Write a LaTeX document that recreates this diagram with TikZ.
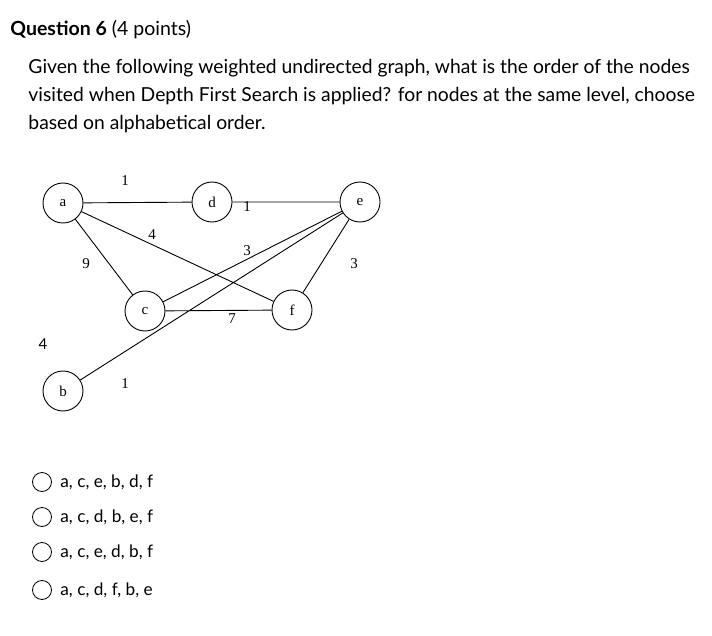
\documentclass[tikz,border=0pt]{standalone}
\usepackage{fontspec}
\setmainfont{Lato}
\newfontfamily\gfont{Liberation Serif}
\begin{document}
\begin{tikzpicture}[x=1pt,y=-1pt,line width=0.9pt,
  vtx/.style={draw,circle,minimum size=40pt,inner sep=0pt,font=\gfont\fontsize{15}{17}\selectfont},
  wt/.style={font=\gfont\fontsize{15}{17}\selectfont,inner sep=0pt},
  txt/.style={anchor=west,inner sep=0pt,font=\fontsize{19.3}{23}\selectfont},
  opt/.style={anchor=west,inner sep=0pt,font=\fontsize{17.2}{21}\selectfont},
  radio/.style={draw,circle,minimum size=19pt,inner sep=0pt,line width=0.8pt}]
\useasboundingbox (0,0) rectangle (712,636);
\node[txt,font=\fontsize{19.5}{23}\selectfont] (q) at (10,30) {\textbf{Question 6} (4 points)};
\node[txt] (p1) at (28,68) {Given the following weighted undirected graph, what is the order of the nodes};
\node[txt] (p2) at (28,96) {visited when Depth First Search is applied? for nodes at the same level, choose};
\node[txt] (p3) at (28,124) {based on alphabetical order.};
\node[vtx] (a) at (63,203) {a};
\node[vtx] (d) at (212,202) {d};
\node[vtx] (e) at (360,202) {e};
\node[vtx] (c) at (145,311) {c};
\node[vtx] (f) at (292,310) {f};
\node[vtx] (b) at (63,391) {b};
\draw (a)--(d) (d)--(e) (a)--(c) (a)--(f) (c)--(e) (b)--(e) (e)--(f) (c)--(f);
\node[wt] (w1) at (125,181) {1};
\node[wt] (w2) at (247,207) {1};
\node[wt] (w3) at (152,235) {4};
\node[wt] (w4) at (86,264) {9};
\node[wt] (w5) at (247,251) {3};
\node[wt] (w6) at (354,264) {3};
\node[wt] (w7) at (232,319) {7};
\node[wt] (w8) at (125,384) {1};
\node[inner sep=0pt,font=\fontsize{15}{17}\selectfont] (w9) at (43,344) {4};
\foreach \y/\t [count=\i] in {482/{a, c, e, b, d, f},517/{a, c, d, b, e, f},552/{a, c, e, d, b, f},590/{a, c, d, f, b, e}}{
  \node[radio] (r\i) at (42,\y) {};
  \node[opt] (o\i) at (60,\y) {\t};
}
\end{tikzpicture}
\end{document}
